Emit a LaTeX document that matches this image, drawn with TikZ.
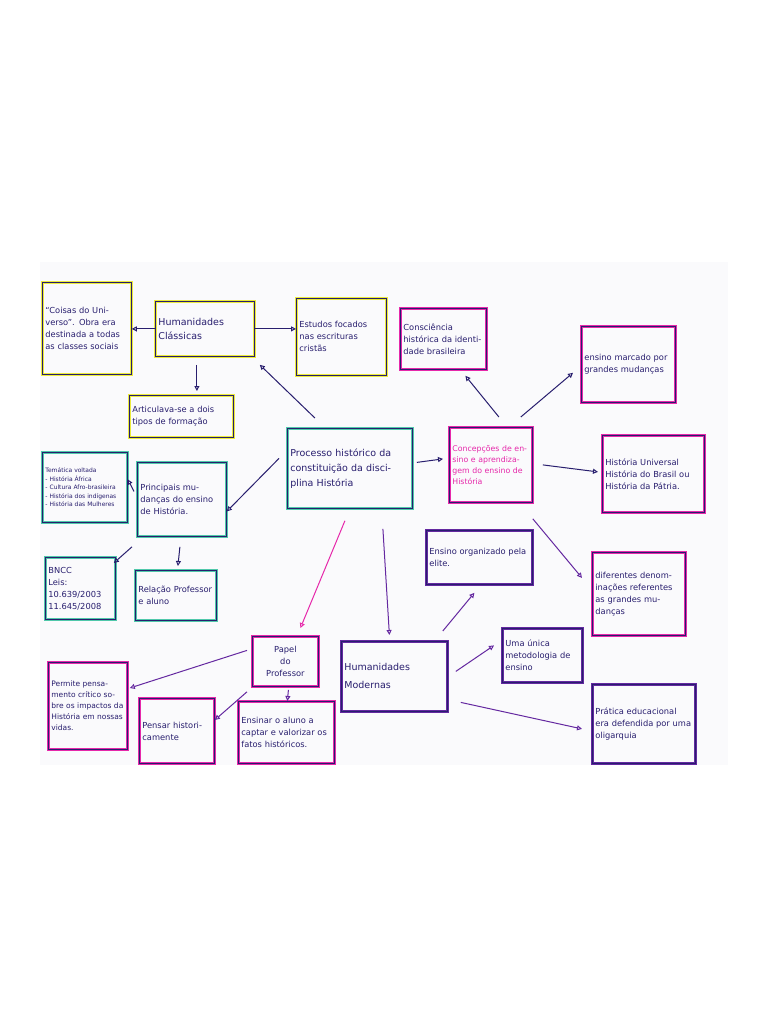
\documentclass[tikz,border=0pt]{standalone}
\usepackage{fontspec}
\setmainfont{DejaVu Sans}
\usetikzlibrary{arrows.meta,calc}
\definecolor{ink}{RGB}{40,30,110}
\definecolor{pur}{RGB}{100,40,160}
\definecolor{mag}{RGB}{230,40,170}
\definecolor{yel}{RGB}{235,235,60}
\definecolor{tea}{RGB}{80,200,170}
\definecolor{paper}{RGB}{250,250,252}
\tikzset{
 bx/.style={draw=ink, line width=0.8pt, preaction={draw=#1, line width=3pt}, align=left, inner sep=3pt, font=\fontsize{8.3}{12}\selectfont, text=ink, anchor=north west},
 ar/.style={draw=#1, line width=1pt, -{Triangle[open,length=5pt,width=5pt]}},
}
\begin{document}
\begin{tikzpicture}[x=1pt,y=-1pt]
\useasboundingbox (0,0) rectangle (768,1024);
\fill[white] (0,0) rectangle (768,1024);
\fill[paper] (40,262) rectangle (728,765);
% yellow group
\node[bx=yel, minimum width=89, minimum height=92, text width=83] (coisas) at (42,282) {``Coisas do Universo''. Obra era destinada a todas as classes sociais};
\node[bx=yel, minimum width=99, minimum height=55, text width=93, font=\fontsize{9.5}{14}\selectfont] (hc) at (155,301) {Humanidades\\ Clássicas};
\node[bx=yel, minimum width=90, minimum height=77, text width=84] (est) at (296,298) {Estudos focados nas escrituras cristãs};
\node[bx=yel, minimum width=104, minimum height=42, text width=98] (art) at (129,395) {Articulava-se a dois tipos de formação};
% center
\node[bx=tea, minimum width=125, minimum height=80, text width=119, font=\fontsize{9.5}{15}\selectfont] (proc) at (287,428) {Processo histórico da constituição da disciplina História};
% magenta group
\node[bx=mag, minimum width=86, minimum height=61, text width=80] (cons) at (400,308) {Consciência histórica da identidade brasileira};
\node[bx=mag, minimum width=94, minimum height=76, text width=88] (marc) at (581,326) {ensino marcado por grandes mudanças};
\node[bx=mag, minimum width=81, minimum height=75, text width=77, text=mag, font=\fontsize{7.8}{11}\selectfont] (conc) at (449,427) {Concepções de ensino e aprendizagem do ensino de História};
\node[bx=mag, minimum width=102, minimum height=77, text width=96] (univ) at (602,435) {História Universal História do Brasil ou História da Pátria.};
\node[bx=mag, minimum width=93, minimum height=83, text width=87] (dif) at (592,552) {diferentes denominações referentes as grandes mudanças};
% teal group
\node[bx=tea, minimum width=83, minimum height=70, text width=79, font=\fontsize{6}{8.5}\selectfont] (tem) at (42,452) {Temática voltada\\- História África\\- Cultura Afro-brasileira\\- História dos indígenas\\- História das Mulheres};
\node[bx=tea, minimum width=89, minimum height=74, text width=83] (princ) at (137,462) {Principais mudanças do ensino de História.};
\node[bx=tea, minimum width=70, minimum height=62, text width=64] (bncc) at (45,557) {BNCC\\ Leis:\\ 10.639/2003\\ 11.645/2008};
\node[bx=tea, minimum width=81, minimum height=50, text width=75] (rel) at (135,570) {Relação Professor e aluno};
% purple group
\node[bx=pur, minimum width=106, minimum height=54, text width=100] (org) at (426,530) {Ensino organizado pela elite.};
\node[bx=mag, minimum width=66, minimum height=50, text width=60, align=center] (pap) at (252,636) {Papel\\ do\\ Professor};
\node[bx=pur, minimum width=106, minimum height=70, text width=100, font=\fontsize{9.5}{18}\selectfont] (hm) at (341,641) {Humanidades\\ Modernas};
\node[bx=pur, minimum width=80, minimum height=54, text width=74] (uni) at (502,628) {Uma única metodologia de ensino};
\node[bx=mag, minimum width=79, minimum height=87, text width=73, font=\fontsize{7.5}{11}\selectfont] (perm) at (48,662) {Permite pensamento crítico sobre os impactos da História em nossas vidas.};
\node[bx=mag, minimum width=75, minimum height=65, text width=69] (pens) at (139,698) {Pensar historicamente};
\node[bx=mag, minimum width=96, minimum height=62, text width=90] (ens) at (238,701) {Ensinar o aluno a captar e valorizar os fatos históricos.};
\node[bx=pur, minimum width=103, minimum height=79, text width=97] (prat) at (592,684) {Prática educacional era defendida por uma oligarquia};
% connectors
\draw[ar=ink] (hc.west) -- (coisas.east |- hc.west);
\draw[ar=ink] (hc.east) -- (est.west |- hc.east);
\draw[ar=ink] (hc.south) ++(-8,8) coordinate (a1) -- ($(a1 |- art.north)+(0,-4)$);
\draw[ar=ink] (proc.north) ++(-35,-10) coordinate(a2) -- ($(hc.south east)+(5,8)$);
\draw[ar=ink] ($(proc.east)+(4,-6)$) -- ($(conc.west)+(-6,-6)$);
\draw[ar=ink] (proc.west) ++(-8,-10) coordinate(a3) -- ($(princ.east)+(0,12)$);
\draw[ar=mag] ($(proc.south)+(-5,12)$) -- ($(pap.north)+(15,-8)$);
\draw[ar=pur] ($(proc.south)+(33,20)$) -- ($(hm.north)+(-5,-6)$);
\draw[ar=ink] ($(conc.north)+(8,-10)$) -- ($(cons.south)+(22,6)$);
\draw[ar=ink] ($(conc.north east)+(-12,-10)$) -- ($(marc.south west)+(-8,-30)$);
\draw[ar=ink] ($(conc.east)+(10,0)$) -- ($(univ.west)+(-4,-2)$);
\draw[ar=pur] ($(conc.south east)+(0,16)$) -- ($(dif.west)+(-10,-16)$);
\draw[ar=ink] ($(princ.west)+(-3,-8)$) -- ($(tem.east)+(0,-8)$);
\draw[ar=ink] ($(princ.south west)+(-5,10)$) -- ($(bncc.north east)+(-2,6)$);
\draw[ar=ink] ($(princ.south)+(-2,10)$) -- ($(rel.north)+(2,-4)$);
\draw[ar=pur] ($(pap.west)+(-5,-11)$) -- ($(perm.north east)+(2,26)$);
\draw[ar=pur] ($(pap.south west)+(-5,5)$) -- ($(pens.north east)+(0,22)$);
\draw[ar=pur] ($(pap.south)+(3,3)$) -- ($(ens.north)+(1,0)$);
\draw[ar=pur] ($(hm.north east)+(-5,-10)$) -- ($(org.south)+(-5,8)$);
\draw[ar=pur] ($(hm.east)+(8,-5)$) -- ($(uni.west)+(-8,-10)$);
\draw[ar=pur] ($(hm.east)+(13,26)$) -- ($(prat.west)+(-10,5)$);
\end{tikzpicture}
\end{document}
